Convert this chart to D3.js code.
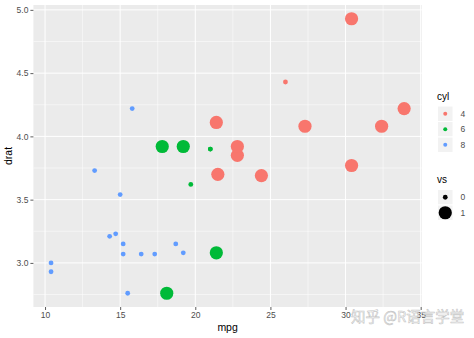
<!DOCTYPE html>
<html>
<head>
<meta charset="utf-8">
<script src="https://cdn.jsdelivr.net/npm/d3@7"></script>
<style>
  html, body { margin: 0; padding: 0; background: #fff; }
  svg { display: block; font-family: "Liberation Sans", Arial, sans-serif; }
</style>
</head>
<body>
<svg id="chart" width="474" height="338"></svg>
<script>
// mtcars: fuel economy vs rear axle ratio
const cars = ["Mazda RX4","Mazda RX4 Wag","Datsun 710","Hornet 4 Drive","Hornet Sportabout","Valiant","Duster 360","Merc 240D","Merc 230","Merc 280","Merc 280C","Merc 450SE","Merc 450SL","Merc 450SLC","Cadillac Fleetwood","Lincoln Continental","Chrysler Imperial","Fiat 128","Honda Civic","Toyota Corolla","Toyota Corona","Dodge Challenger","AMC Javelin","Camaro Z28","Pontiac Firebird","Fiat X1-9","Porsche 914-2","Lotus Europa","Ford Pantera L","Ferrari Dino","Maserati Bora","Volvo 142E"];
const mpg  = [21.0,21.0,22.8,21.4,18.7,18.1,14.3,24.4,22.8,19.2,17.8,16.4,17.3,15.2,10.4,10.4,14.7,32.4,30.4,33.9,21.5,15.5,15.2,13.3,19.2,27.3,26.0,30.4,15.8,19.7,15.0,21.4];
const drat = [3.90,3.90,3.85,3.08,3.15,2.76,3.21,3.69,3.92,3.92,3.92,3.07,3.07,3.07,2.93,3.00,3.23,4.08,4.93,4.22,3.70,2.76,3.15,3.73,3.08,4.08,4.43,3.77,4.22,3.62,3.54,4.11];
const cyl  = [6,6,4,6,8,6,8,4,4,6,6,8,8,8,8,8,8,4,4,4,4,8,8,8,8,4,4,4,8,6,8,4];
const vs   = [0,0,1,1,0,1,0,1,1,1,1,0,0,0,0,0,0,1,1,1,1,0,0,0,0,1,0,1,0,0,0,1];

const cylLevels = ["4","6","8"];
const vsLevels = ["0","1"];
const xTicks = [10,15,20,25,30,35];
const yTicks = [3.0,3.5,4.0,4.5,5.0];

const svg = d3.select("#chart");
const P = { left: 33.4, right: 421.8, top: 5, bottom: 307 };

const xExt = d3.extent(mpg), yExt = d3.extent(drat);
const xPad = (xExt[1]-xExt[0])*0.05, yPad = (yExt[1]-yExt[0])*0.05;
const x = d3.scaleLinear().domain([xExt[0]-xPad, xExt[1]+xPad]).range([P.left, P.right]);
const y = d3.scaleLinear().domain([yExt[0]-yPad, yExt[1]+yPad]).range([P.bottom, P.top]);
const color = d3.scaleOrdinal().domain(cylLevels).range(["#F8766D","#00BA38","#619CFF"]);
const size = d3.scaleOrdinal().domain(vsLevels).range([2.4, 6.6]);

// panel
svg.append("rect").attr("x", P.left).attr("y", P.top)
  .attr("width", P.right-P.left).attr("height", P.bottom-P.top).attr("fill", "#EBEBEB");

const grid = svg.append("g");
const xMinor = xTicks.map(t => t + 2.5).filter(t => t > x.domain()[0] && t < x.domain()[1]);
const yMinor = [2.75,3.25,3.75,4.25,4.75];
grid.selectAll(".xm").data(xMinor).join("line")
  .attr("x1", d => x(d)).attr("x2", d => x(d)).attr("y1", P.top).attr("y2", P.bottom)
  .attr("stroke", "#fff").attr("stroke-width", 0.5);
grid.selectAll(".ym").data(yMinor).join("line")
  .attr("y1", d => y(d)).attr("y2", d => y(d)).attr("x1", P.left).attr("x2", P.right)
  .attr("stroke", "#fff").attr("stroke-width", 0.5);
grid.selectAll(".xM").data(xTicks).join("line")
  .attr("x1", d => x(d)).attr("x2", d => x(d)).attr("y1", P.top).attr("y2", P.bottom)
  .attr("stroke", "#fff").attr("stroke-width", 1);
grid.selectAll(".yM").data(yTicks).join("line")
  .attr("y1", d => y(d)).attr("y2", d => y(d)).attr("x1", P.left).attr("x2", P.right)
  .attr("stroke", "#fff").attr("stroke-width", 1);

// axes
const xAxis = svg.append("g").attr("transform", `translate(0,${P.bottom})`)
  .call(d3.axisBottom(x).tickValues(xTicks).tickSize(3).tickPadding(2).tickFormat(d3.format("d")));
const yAxis = svg.append("g").attr("transform", `translate(${P.left},0)`)
  .call(d3.axisLeft(y).tickValues(yTicks).tickSize(3).tickPadding(2).tickFormat(d3.format(".1f")));
[xAxis, yAxis].forEach(a => {
  a.select(".domain").remove();
  a.selectAll(".tick line").attr("stroke", "#333").attr("stroke-width", 0.8);
  a.selectAll(".tick text").attr("fill", "#4D4D4D").attr("font-size", 8.5)
    .attr("font-family", "Liberation Sans, Arial, sans-serif");
});

svg.append("text").attr("x", (P.left+P.right)/2).attr("y", 331)
  .attr("text-anchor", "middle").attr("font-size", 10.5).attr("fill", "#000").text("mpg");
svg.append("text").attr("transform", `translate(12,${(P.top+P.bottom)/2}) rotate(-90)`)
  .attr("text-anchor", "middle").attr("font-size", 10.5).attr("fill", "#000").text("drat");

// points
svg.append("g").selectAll("circle").data(d3.range(mpg.length)).join("circle")
  .attr("cx", i => x(mpg[i])).attr("cy", i => y(drat[i]))
  .attr("r", i => size(String(vs[i])))
  .attr("fill", i => color(String(cyl[i])));

// legends
const lg = svg.append("g");
lg.append("text").attr("x", 437).attr("y", 100).attr("font-size", 10).attr("fill", "#000").text("cyl");
cylLevels.forEach((c, k) => {
  const ky = 106 + k*15.5;
  lg.append("rect").attr("x", 437.5).attr("y", ky).attr("width", 15.5).attr("height", 15.5)
    .attr("fill", "#F2F2F2").attr("stroke", "#fff").attr("stroke-width", 1);
  lg.append("circle").attr("cx", 445.25).attr("cy", ky+7.75).attr("r", 2).attr("fill", color(c));
  lg.append("text").attr("x", 460.5).attr("y", ky+10.8).attr("font-size", 8.5).attr("fill", "#4D4D4D").text(c);
});
lg.append("text").attr("x", 437).attr("y", 183).attr("font-size", 10).attr("fill", "#000").text("vs");
vsLevels.forEach((v, k) => {
  const ky = 189.5 + k*15.5;
  lg.append("rect").attr("x", 437.5).attr("y", ky).attr("width", 15.5).attr("height", 15.5)
    .attr("fill", "#F2F2F2").attr("stroke", "#fff").attr("stroke-width", 1);
  lg.append("circle").attr("cx", 445.25).attr("cy", ky+7.75).attr("r", size(v)).attr("fill", "#000");
  lg.append("text").attr("x", 460.5).attr("y", ky+10.8).attr("font-size", 8.5).attr("fill", "#4D4D4D").text(v);
});

// site watermark
svg.append("text").attr("x", 351).attr("y", 322)
  .attr("font-family", "Noto Sans CJK SC, sans-serif").attr("font-size", 14.5)
  .attr("fill", "#fff").attr("fill-opacity", 0.6)
  .attr("stroke", "#aaa").attr("stroke-width", 0.6).attr("stroke-opacity", 0.7)
  .text("知乎 @R语言学堂");
</script>
</body>
</html>
